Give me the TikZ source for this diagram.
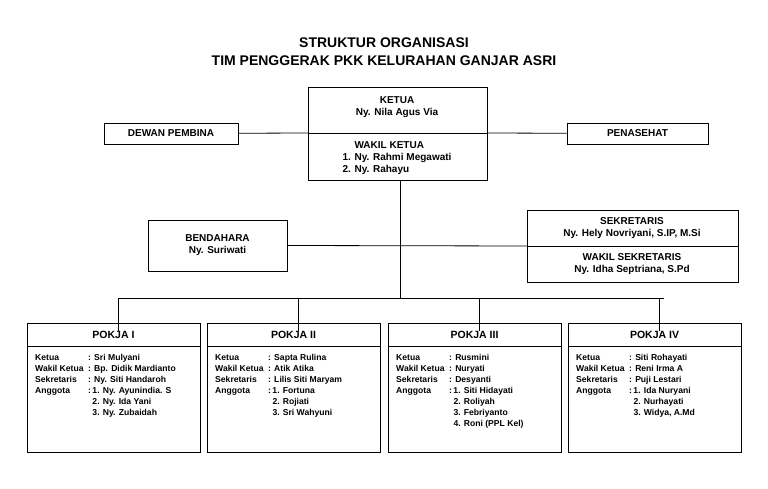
\documentclass[tikz,border=0pt]{standalone}
\usepackage{fontspec}
\setmainfont{Liberation Sans}
\begin{document}
\begin{tikzpicture}[x=1pt,y=-1pt,
  bx/.style={draw,line width=0.8pt},
  ln/.style={line width=0.8pt},
  t/.style={font=\bfseries\fontsize{10}{12}\selectfont,align=center,inner sep=0},
  pt/.style={font=\bfseries\fontsize{8.6}{11}\selectfont,anchor=north west,inner sep=0,align=left}]
\useasboundingbox (0,0) rectangle (768,489);
\node[font=\bfseries\fontsize{14}{18}\selectfont,align=center] (title) at (384,52) {STRUKTUR ORGANISASI\\TIM PENGGERAK PKK KELURAHAN GANJAR ASRI};
% ketua
\draw[bx] (308,87) rectangle (487,180);
\coordinate (kl) at (308,133); \coordinate (kr) at (487,133);
\coordinate (kb) at (400,180);
\draw[ln] (kl) -- (kr);
\node[t] (ketua) at (397,107) {KETUA\\Ny. Nila Agus Via};
\node[t,align=left] (wakil) at (397,158) {\hspace*{1.2em}WAKIL KETUA\\1. Ny. Rahmi Megawati\\2. Ny. Rahayu};
\node[bx,t,minimum width=134,minimum height=21] (dewan) at (171,133.5) {DEWAN PEMBINA};
\node[bx,t,minimum width=141,minimum height=21] (pen) at (637.5,133.5) {PENASEHAT};
\draw[ln] (dewan) -- (kl); \draw[ln] (kr) -- (pen);
% bendahara & sekretaris
\node[bx,t,minimum width=139,minimum height=51] (bend) at (217.5,245.5) {BENDAHARA\\Ny. Suriwati};
\draw[bx] (527,210) rectangle (738,282);
\coordinate (sl) at (527,246); \coordinate (sr) at (738,246);
\draw[ln] (sl) -- (sr);
\node[t] (sek) at (632,228) {SEKRETARIS\\Ny. Hely Novriyani, S.IP, M.Si};
\node[t] (wsek) at (632,264) {WAKIL SEKRETARIS\\Ny. Idha Septriana, S.Pd};
\draw[ln] (bend.east) -- (sl);
\coordinate (hub) at (400,298);
\draw[ln] (kb) -- (hub);
\coordinate (b1) at (118,298); \coordinate (b4) at (664,298);
\draw[ln] (b1) -- (b4);
% pokja
\foreach \i/\x/\nm/\a/\b/\c/\d in {
 1/27/POKJA I/Sri Mulyani/Bp. Didik Mardianto/Ny. Siti Handaroh/{1. Ny. Ayunindia. S\\2. Ny. Ida Yani\\3. Ny. Zubaidah},
 2/207/POKJA II/Sapta Rulina/Atik Atika/Lilis Siti Maryam/{1. Fortuna\\2. Rojiati\\3. Sri Wahyuni},
 3/388/POKJA III/Rusmini/Nuryati/Desyanti/{1. Siti Hidayati\\2. Roliyah\\3. Febriyanto\\4. Roni (PPL Kel)},
 4/568/POKJA IV/Siti Rohayati/Reni Irma A/Puji Lestari/{1. Ida Nuryani\\2. Nurhayati\\3. Widya, A.Md}}{
  \draw[bx] (\x,323) rectangle ++(173,129);
  \draw[ln] (\x,346) -- ++(173,0);
  \node[t,font=\bfseries\fontsize{10.5}{12}\selectfont] (p\i) at (\x+86.5,335) {\nm};
  \draw[ln] (\x+91,298) -- (p\i.north -| {\x+91,0}) ;
  \node[pt] (l\i) at (\x+8,354) {Ketua\\Wakil Ketua\\Sekretaris\\Anggota};
  \node[pt] (v\i) at (\x+61,354) {: \a\\: \b\\: \c\\:\,\begin{tabular}[t]{@{}l@{}}\d\end{tabular}};
}
\end{tikzpicture}
\end{document}
